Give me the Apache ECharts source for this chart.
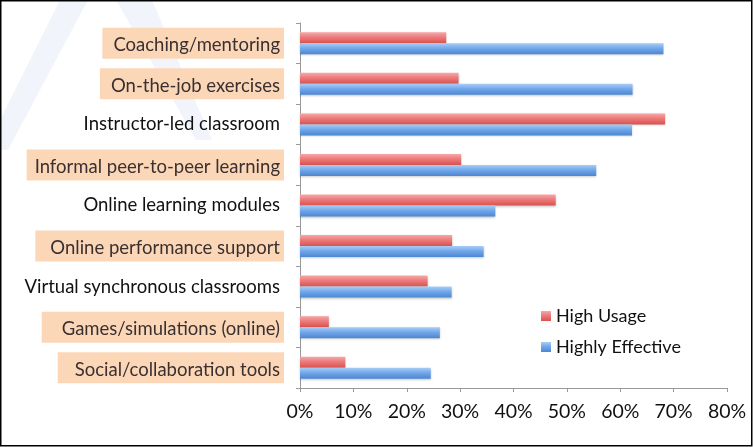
<!DOCTYPE html>
<html>
<head>
<meta charset="utf-8">
<script src="https://cdn.jsdelivr.net/npm/echarts@6/dist/echarts.min.js"></script>
<style>
  html, body { margin: 0; padding: 0; background: #fff; }
  #chart { width: 753px; height: 447px; }
</style>
</head>
<body>
<div id="chart"></div>
<script>
// categories, top to bottom
const categories = [
  'Coaching/mentoring',
  'On-the-job exercises',
  'Instructor-led classroom',
  'Informal peer-to-peer learning',
  'Online learning modules',
  'Online performance support',
  'Virtual synchronous classrooms',
  'Games/simulations (online)',
  'Social/collaboration tools'
]
const highUsage = [27.4, 29.7, 68.4, 30.2, 47.9, 28.5, 23.9, 5.4, 8.5]
const highlyEffective = [68.1, 62.3, 62.2, 55.5, 36.6, 34.4, 28.4, 26.2, 24.5]
const xTicks = [0, 10, 20, 30, 40, 50, 60, 70, 80]

// which labels get the peach highlight box, and its left padding
const highlightPad = [11, 11, 0, 8, 0, 15, 0, 20, 17]

const font = 'Lato, "Open Sans", sans-serif'

let myChart = echarts.init(document.getElementById('chart'))

let rich = {
  pl: { fontSize: 18.5, fontFamily: font, color: '#111', padding: [0, 4, 0, 0] }
}
highlightPad.forEach((p, i) => {
  if (p > 0) {
    rich['hl' + i] = {
      fontSize: 18.5, fontFamily: font, color: '#3a3030',
      backgroundColor: '#fbd7b8',
      padding: [8, 4, 4, p]
    }
  }
})

function grad(top, mid, bottom) {
  return new echarts.graphic.LinearGradient(0, 0, 0, 1, [
    { offset: 0, color: top },
    { offset: 0.45, color: mid },
    { offset: 1, color: bottom }
  ])
}

myChart.setOption({
  animation: false,
  graphic: [
    // faint watermark chevrons
    { type: 'polygon', z: -10, shape: { points: [[60, 0], [88, 0], [8, 150], [0, 150], [0, 120]] }, style: { fill: '#f1f4fa' } },
    { type: 'polygon', z: -10, shape: { points: [[116, 0], [152, 0], [212, 140], [196, 140]] }, style: { fill: '#f1f4fa' } },
    // frame
    { type: 'rect', z: 100, shape: { x: 0.75, y: 0.75, width: 751, height: 445 }, style: { fill: 'none', stroke: '#000', lineWidth: 1.5 } }
  ],
  legend: {
    orient: 'vertical',
    left: 536,
    top: 301,
    itemWidth: 10,
    itemHeight: 10,
    itemGap: 11,
    textStyle: { fontSize: 18, lineHeight: 20, fontFamily: font, color: '#111' },
    icon: 'rect',
    data: ['High Usage', 'Highly Effective']
  },
  grid: {
    left: 300,
    right: 26,
    top: 23,
    bottom: 59
  },
  xAxis: {
    type: 'value',
    min: 0,
    max: 80,
    interval: 10,
    splitLine: { show: false },
    axisLine: { show: true, lineStyle: { color: '#999' } },
    axisTick: { show: true, length: 4, lineStyle: { color: '#999' } },
    axisLabel: {
      margin: 14,
      fontSize: 19.5,
      fontFamily: font,
      color: '#111',
      formatter: v => xTicks.includes(v) ? v + '%' : ''
    }
  },
  yAxis: {
    type: 'category',
    inverse: true,
    data: categories,
    axisLine: { show: true, lineStyle: { color: '#999' } },
    axisTick: { show: true, length: 4, lineStyle: { color: '#999' } },
    axisLabel: {
      margin: 16,
      formatter: (v, i) => highlightPad[i] > 0 ? '{hl' + i + '|' + v + '}' : '{pl|' + v + '}',
      rich: rich
    }
  },
  series: [
    {
      name: 'High Usage',
      type: 'bar',
      barWidth: 11,
      barGap: '0%',
      itemStyle: {
        color: grad('#f6a8a8', '#ec7b7b', '#d9524f'),
        shadowColor: 'rgba(0,0,0,0.2)',
        shadowBlur: 2,
        shadowOffsetY: 1
      },
      data: highUsage
    },
    {
      name: 'Highly Effective',
      type: 'bar',
      barWidth: 11,
      barGap: '0%',
      itemStyle: {
        color: grad('#a9cdf6', '#72a8ea', '#4c86d2'),
        shadowColor: 'rgba(0,0,0,0.2)',
        shadowBlur: 2,
        shadowOffsetY: 1
      },
      data: highlyEffective
    }
  ]
})
</script>
</body>
</html>
